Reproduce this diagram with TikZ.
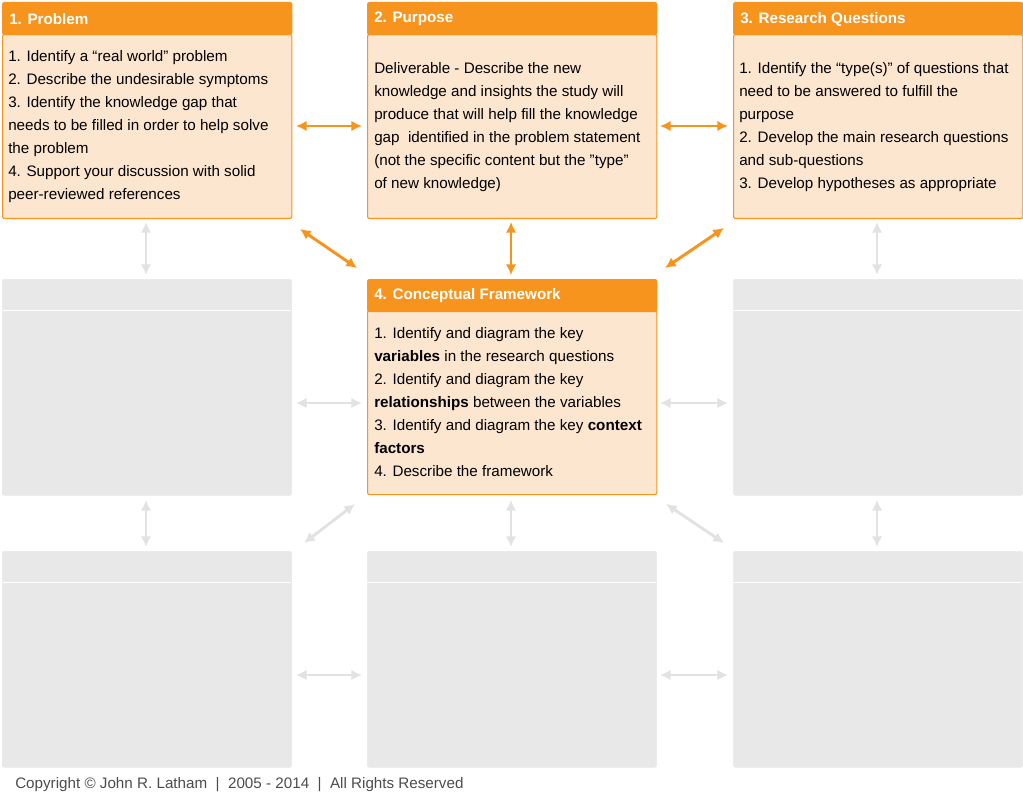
\documentclass[tikz,border=0pt]{standalone}
\usepackage{fontspec}
\setmainfont{Liberation Sans}
\usetikzlibrary{positioning, arrows.meta}
\definecolor{orng}{HTML}{F7941D}
\definecolor{pale}{HTML}{FDE6CF}
\definecolor{grey}{HTML}{E8E8E8}
\definecolor{garrow}{HTML}{E2E2E2}
\begin{document}
\begin{tikzpicture}[x=0.75pt, y=-0.75pt, >={Latex[length=8pt, width=8pt]}, inner sep=0pt,
    head/.style={fill=orng, draw=orng, line width=0.8pt, rounded corners=1.5pt,
      minimum width=217pt, minimum height=24pt, anchor=north west},
    body/.style={fill=pale, draw=orng, line width=0.8pt, rounded corners=1.5pt,
      minimum width=217pt, minimum height=138pt, anchor=north west},
    blank/.style={fill=grey, draw=grey, rounded corners=1.5pt,
      minimum width=217pt, minimum height=162pt, anchor=north west},
    htxt/.style={text=white, font=\bfseries\fontsize{11.4}{12}\selectfont, anchor=west},
    btxt/.style={font=\fontsize{11.4}{17.3}\selectfont, align=left, anchor=north west},
    oarr/.style={<->, orng, line width=2.2pt},
    garr/.style={<->, garrow, line width=2.2pt}]
  \useasboundingbox (0,0) rectangle (1023,802);
  % row 1: orange boxes
  \node[body] (b1) at (2,34) {};
  \node[head] (h1) at (2,2) {};
  \node[htxt] at (9,19) {1. Problem};
  \node[btxt] (t1) at (8,50) {1. Identify a “real world” problem\\2. Describe the undesirable symptoms\\3. Identify the knowledge gap that\\needs to be filled in order to help solve\\the problem\\4. Support your discussion with solid\\peer-reviewed references};
  \node[body] (b2) at (367,34) {};
  \node[head] (h2) at (367,2) {};
  \node[htxt] at (374,19) {2. Purpose};
  \node[btxt] (t2) at (374,62) {Deliverable - Describe the new\\knowledge and insights the study will\\produce that will help fill the knowledge\\gap\ \ identified in the problem statement\\(not the specific content but the "type"\\of new knowledge)};
  \node[body] (b3) at (733,34) {};
  \node[head] (h3) at (733,2) {};
  \node[htxt] at (740,19) {3. Research Questions};
  \node[btxt] (t3) at (739,62) {1. Identify the “type(s)” of questions that\\need to be answered to fulfill the\\purpose\\2. Develop the main research questions\\and sub-questions\\3. Develop hypotheses as appropriate};
  % row 2
  \node[blank] (g1) at (2,279) {};
  \draw[white, line width=0.6pt] (2,310) -- (291,310);
  \node[body] (b4) at (367,310) {};
  \node[head] (h4) at (367,279) {};
  \node[htxt] at (374,296) {4. Conceptual Framework};
  \node[btxt] (t4) at (374,327) {1. Identify and diagram the key\\\textbf{variables} in the research questions\\2. Identify and diagram the key\\\textbf{relationships} between the variables\\3. Identify and diagram the key \textbf{context}\\\textbf{factors}\\4. Describe the framework};
  \node[blank] (g3) at (733,279) {};
  \draw[white, line width=0.6pt] (733,310) -- (1022,310);
  % row 3
  \foreach \x/\n in {2/g4, 367/g5, 733/g6} {
    \node[blank] (\n) at (\x,551) {};
    \draw[white, line width=0.6pt] (\x,582) -- (\x+289,582);
  }
  % orange connectors
  \coordinate (o1a) at (296,126); \coordinate (o1b) at (362,126);
  \coordinate (o2a) at (660,126); \coordinate (o2b) at (728,126);
  \coordinate (o3a) at (511,222); \coordinate (o3b) at (511,275);
  \coordinate (o4a) at (300,229); \coordinate (o4b) at (357,268);
  \coordinate (o5a) at (724,228); \coordinate (o5b) at (665,268);
  \foreach \a/\b in {o1a/o1b, o2a/o2b, o3a/o3b, o4a/o4b, o5a/o5b}
    \draw[oarr] (\a) -- (\b);
  % grey connectors
  \coordinate (q1a) at (146,222); \coordinate (q1b) at (146,275);
  \coordinate (q2a) at (877,222); \coordinate (q2b) at (877,275);
  \coordinate (q3a) at (296,403); \coordinate (q3b) at (362,403);
  \coordinate (q4a) at (660,403); \coordinate (q4b) at (728,403);
  \coordinate (q5a) at (146,500); \coordinate (q5b) at (146,547);
  \coordinate (q6a) at (511,500); \coordinate (q6b) at (511,547);
  \coordinate (q7a) at (877,500); \coordinate (q7b) at (877,547);
  \coordinate (q8a) at (355,504); \coordinate (q8b) at (304,543);
  \coordinate (q9a) at (666,504); \coordinate (q9b) at (724,543);
  \coordinate (q10a) at (296,675); \coordinate (q10b) at (362,675);
  \coordinate (q11a) at (660,675); \coordinate (q11b) at (728,675);
  \foreach \a/\b in {q1a/q1b, q2a/q2b, q3a/q3b, q4a/q4b, q5a/q5b, q6a/q6b,
      q7a/q7b, q8a/q8b, q9a/q9b, q10a/q10b, q11a/q11b}
    \draw[garr] (\a) -- (\b);
  % footer
  \node[anchor=west, text=black!70, font=\fontsize{11.4}{12}\selectfont] (copy) at (15,785)
    {Copyright © John R. Latham\ \ |\ \ 2005 - 2014\ \ |\ \ All Rights Reserved};
\end{tikzpicture}
\end{document}
